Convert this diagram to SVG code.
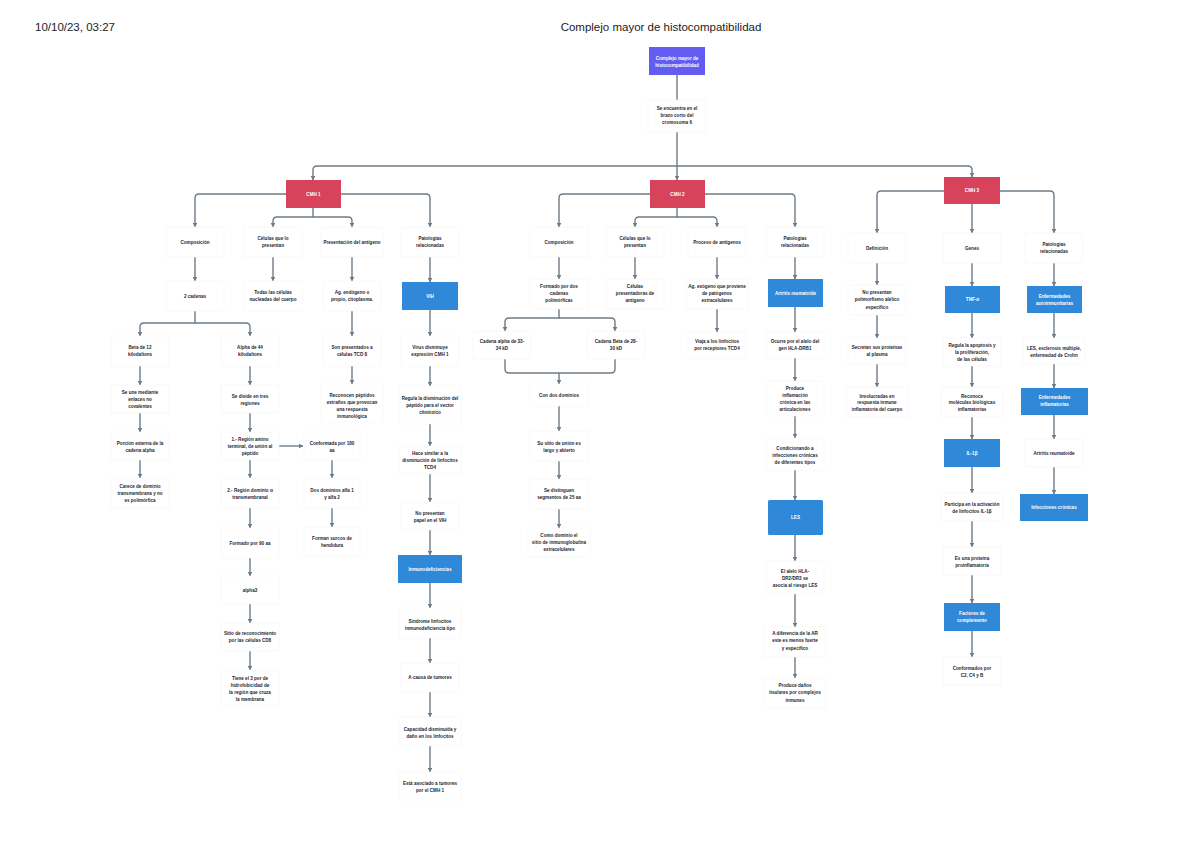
<svg xmlns="http://www.w3.org/2000/svg" width="1200" height="848" viewBox="0 0 1200 848">
<defs>
<marker id="ah" viewBox="0 0 6 6" refX="5.5" refY="3" markerWidth="4.5" markerHeight="4.5" markerUnits="userSpaceOnUse" orient="auto"><path d="M0,0 L6,3 L0,6 z" fill="#6e7b87"/></marker>
</defs>
<style>
.hd{font-family:"Liberation Sans",Arial,sans-serif;font-size:11.5px;fill:#222}
.t{font-family:"Liberation Sans",Arial,sans-serif;font-size:4.6px;font-weight:bold;fill:#1d2733;text-anchor:middle}
.tw{font-family:"Liberation Sans",Arial,sans-serif;font-size:4.6px;font-weight:bold;fill:#ffffff;text-anchor:middle}
.wb{fill:#ffffff;stroke:#f4f5f6;stroke-width:0.6}
.bb{fill:#2f88d8}
.rb{fill:#d6435b}
.pb{fill:#625cf0}
.c path{fill:none;stroke:#6e7b87;stroke-width:1.4;marker-end:url(#ah)}
.c path.n{marker-end:none}
</style>
<rect width="1200" height="848" fill="#ffffff"/>
<text class="hd" x="35" y="31">10/10/23, 03:27</text>
<text class="hd" x="661" y="31" text-anchor="middle">Complejo mayor de histocompatibilidad</text>

<g class="c" id="connectors">
<path class="n" d="M677 75 V100"/>
<path d="M677 132 V180"/>
<path d="M677 166 H317 Q313 166 313 170 V180"/>
<path d="M677 166 H968 Q972 166 972 170 V177"/>
<!-- CMH1 -->
<path d="M286 194 H199 Q195 194 195 198 V227"/>
<path d="M341 194 H426 Q430 194 430 198 V227"/>
<path d="M313 208 V217 H277 Q273 217 273 221 V227"/>
<path d="M313 217 H348 Q352 217 352 221 V227"/>
<path d="M195 257 V281"/>
<path d="M273 257 V281"/>
<path d="M352 257 V281"/>
<path d="M430 257 V282"/>
<path d="M195 311 V323 H144 Q140 323 140 327 V336"/>
<path d="M195 323 H246 Q250 323 250 327 V336"/>
<path d="M140 366 V385"/>
<path d="M140 413 V432"/>
<path d="M140 460 V478"/>
<path d="M250 366 V385"/>
<path d="M250 413 V432"/>
<path d="M278 446 H303"/>
<path d="M250 460 V478"/>
<path d="M250 508 V528"/>
<path d="M250 558 V576"/>
<path d="M250 604 V623"/>
<path d="M250 651 V670"/>
<path d="M332 460 V478"/>
<path d="M332 508 V527"/>
<path d="M352 311 V336"/>
<path d="M352 366 V384"/>
<path d="M430 310 V336"/>
<path d="M430 366 V386"/>
<path d="M430 424 V446"/>
<path d="M430 474 V502"/>
<path d="M430 530 V555"/>
<path d="M430 583 V608"/>
<path d="M430 638 V663"/>
<path d="M430 692 V717"/>
<path d="M430 746 V772"/>
<!-- CMH2 -->
<path d="M650 194 H563 Q559 194 559 198 V227"/>
<path d="M705 194 H791 Q795 194 795 198 V227"/>
<path d="M677 208 V217 H639 Q635 217 635 221 V227"/>
<path d="M677 217 H713 Q717 217 717 221 V227"/>
<path d="M559 257 V279"/>
<path d="M635 257 V279"/>
<path d="M717 257 V279"/>
<path d="M795 257 V279"/>
<path d="M559 309 V318 H509 Q505 318 505 322 V331"/>
<path d="M559 318 H611 Q615 318 615 322 V331"/>
<path class="n" d="M505 359 V369 Q505 373 509 373 H611 Q615 373 615 369 V359"/>
<path d="M559 373 V384"/>
<path d="M559 406 V431"/>
<path d="M559 461 V479"/>
<path d="M559 509 V528"/>
<path d="M717 309 V332"/>
<path d="M795 307 V332"/>
<path d="M795 358 V381"/>
<path d="M795 416 V438"/>
<path d="M795 470 V500"/>
<path d="M795 535 V561"/>
<path d="M795 594 V627"/>
<path d="M795 657 V678"/>
<!-- CMH3 -->
<path d="M944 191 H881 Q877 191 877 195 V233"/>
<path d="M1000 191 H1050 Q1054 191 1054 195 V233"/>
<path d="M972 204 V233"/>
<path d="M877 263 V285"/>
<path d="M972 263 V286"/>
<path d="M1054 263 V286"/>
<path d="M877 315 V338"/>
<path d="M972 313 V338"/>
<path d="M1054 313 V338"/>
<path d="M877 364 V387"/>
<path d="M972 366 V387"/>
<path d="M1054 364 V388"/>
<path d="M972 417 V439"/>
<path d="M972 467 V493"/>
<path d="M972 521 V547"/>
<path d="M972 575 V603"/>
<path d="M972 631 V657"/>
<path d="M1054 415 V439"/>
<path d="M1054 467 V494"/>
</g>

<g id="root"><rect class="pb" x="649" y="47" width="56" height="28"/><text class="tw"><tspan x="677" y="60">Complejo mayor de</tspan><tspan x="677" y="66.5">histocompatibilidad</tspan></text></g>
<g id="n-loc"><rect class="wb" x="648" y="100" width="58" height="32"/><text class="t"><tspan x="677" y="110">Se encuentra en el</tspan><tspan x="677" y="117">brazo corto del</tspan><tspan x="677" y="124">cromosoma 6</tspan></text></g>
<g id="cmh1"><rect class="rb" x="286" y="180" width="55" height="28"/><text class="tw" x="313.5" y="195.5">CMH 1</text></g>
<g id="cmh2"><rect class="rb" x="650" y="180" width="55" height="28"/><text class="tw" x="677.5" y="195.5">CMH 2</text></g>
<g id="cmh3"><rect class="rb" x="944" y="177" width="56" height="27"/><text class="tw" x="972" y="192">CMH 3</text></g>

<!-- CMH1 nodes -->
<g id="c1-comp"><rect class="wb" x="166" y="227" width="58" height="30"/><text class="t" x="195" y="243.5">Composición</text></g>
<g id="c1-cel"><rect class="wb" x="244" y="227" width="58" height="30"/><text class="t"><tspan x="273" y="240">Células que lo</tspan><tspan x="273" y="247">presentan</tspan></text></g>
<g id="c1-pres"><rect class="wb" x="321" y="227" width="62" height="30"/><text class="t" x="352" y="243.5">Presentación del antígeno</text></g>
<g id="c1-pat"><rect class="wb" x="401" y="227" width="58" height="30"/><text class="t"><tspan x="430" y="240">Patologías</tspan><tspan x="430" y="247">relacionadas</tspan></text></g>
<g id="c1-cad"><rect class="wb" x="166" y="281" width="58" height="30"/><text class="t" x="195" y="297.5">2 cadenas</text></g>
<g id="c1-todas"><rect class="wb" x="244" y="281" width="58" height="30"/><text class="t"><tspan x="273" y="294">Todas las células</tspan><tspan x="273" y="301">nucleadas del cuerpo</tspan></text></g>
<g id="c1-ag"><rect class="wb" x="323" y="281" width="58" height="30"/><text class="t"><tspan x="352" y="294">Ag. endógeno o</tspan><tspan x="352" y="301">propio, citoplasma.</tspan></text></g>
<g id="c1-vih"><rect class="bb" x="402" y="282" width="56" height="28"/><text class="tw" x="430" y="297.5">VIH</text></g>
<g id="c1-beta"><rect class="wb" x="111" y="336" width="58" height="30"/><text class="t"><tspan x="140" y="349">Beta de 12</tspan><tspan x="140" y="356">kilodaltons</tspan></text></g>
<g id="c1-alpha"><rect class="wb" x="221" y="336" width="58" height="30"/><text class="t"><tspan x="250" y="349">Alpha de 44</tspan><tspan x="250" y="356">kilodaltons</tspan></text></g>
<g id="c1-union"><rect class="wb" x="111" y="385" width="58" height="28"/><text class="t"><tspan x="140" y="393.5">Se une mediante</tspan><tspan x="140" y="400.5">enlaces no</tspan><tspan x="140" y="407.5">covalentes</tspan></text></g>
<g id="c1-porc"><rect class="wb" x="111" y="432" width="58" height="28"/><text class="t"><tspan x="140" y="444.5">Porción externa de la</tspan><tspan x="140" y="451.5">cadena alpha</tspan></text></g>
<g id="c1-carece"><rect class="wb" x="111" y="478" width="58" height="30"/><text class="t"><tspan x="140" y="487.5">Carece de dominio</tspan><tspan x="140" y="494.5">transmembrana y no</tspan><tspan x="140" y="501.5">es polimórfica</tspan></text></g>
<g id="c1-divide"><rect class="wb" x="221" y="385" width="58" height="28"/><text class="t"><tspan x="250" y="397.5">Se divide en tres</tspan><tspan x="250" y="404.5">regiones</tspan></text></g>
<g id="c1-reg1"><rect class="wb" x="221" y="432" width="58" height="28"/><text class="t"><tspan x="250" y="440.5">1.- Región amino</tspan><tspan x="250" y="447.5">terminal, de unión al</tspan><tspan x="250" y="454.5">péptido</tspan></text></g>
<g id="c1-conf"><rect class="wb" x="304" y="432" width="56" height="28"/><text class="t"><tspan x="332" y="444.5">Conformada por 180</tspan><tspan x="332" y="451.5">aa</tspan></text></g>
<g id="c1-dom"><rect class="wb" x="304" y="478" width="56" height="30"/><text class="t"><tspan x="332" y="491.5">Dos dominios alfa 1</tspan><tspan x="332" y="498.5">y alfa 2</tspan></text></g>
<g id="c1-surco"><rect class="wb" x="304" y="527" width="56" height="29"/><text class="t"><tspan x="332" y="539.5">Forman surcos de</tspan><tspan x="332" y="546.5">hendidura</tspan></text></g>
<g id="c1-reg2"><rect class="wb" x="221" y="478" width="58" height="30"/><text class="t"><tspan x="250" y="491.5">2.- Región dominio α</tspan><tspan x="250" y="498.5">transmembranal</tspan></text></g>
<g id="c1-90"><rect class="wb" x="221" y="528" width="58" height="30"/><text class="t" x="250" y="544.5">Formado por 90 aa</text></g>
<g id="c1-a3"><rect class="wb" x="221" y="576" width="58" height="28"/><text class="t" x="250" y="591.5">alpha3</text></g>
<g id="c1-sitio"><rect class="wb" x="221" y="623" width="58" height="28"/><text class="t"><tspan x="250" y="634.5">Sitio de reconocimiento</tspan><tspan x="250" y="641.5">por las células CD8</tspan></text></g>
<g id="c1-tiene"><rect class="wb" x="221" y="670" width="58" height="36"/><text class="t"><tspan x="250" y="679.5">Tiene el 3 por de</tspan><tspan x="250" y="686.5">hidrofobicidad de</tspan><tspan x="250" y="693.5">la región que cruza</tspan><tspan x="250" y="700.5">la membrana</tspan></text></g>
<g id="c1-son"><rect class="wb" x="323" y="336" width="58" height="30"/><text class="t"><tspan x="352" y="349">Son presentados a</tspan><tspan x="352" y="356">células TCD 8</tspan></text></g>
<g id="c1-recon"><rect class="wb" x="321" y="384" width="62" height="38"/><text class="t"><tspan x="352" y="396.5">Reconocen péptidos</tspan><tspan x="352" y="403.5">extraños que provocan</tspan><tspan x="352" y="410.5">una respuesta</tspan><tspan x="352" y="417.5">inmunológica</tspan></text></g>
<g id="c1-virus"><rect class="wb" x="401" y="336" width="58" height="30"/><text class="t"><tspan x="430" y="349">Virus disminuye</tspan><tspan x="430" y="356">expresión CMH 1</tspan></text></g>
<g id="c1-regula"><rect class="wb" x="399" y="386" width="62" height="38"/><text class="t"><tspan x="430" y="399.5">Regula la disminución del</tspan><tspan x="430" y="406.5">péptido para el vector</tspan><tspan x="430" y="413.5">citotóxico</tspan></text></g>
<g id="c1-hace"><rect class="wb" x="399" y="446" width="62" height="28"/><text class="t"><tspan x="430" y="454.5">Hace similar a la</tspan><tspan x="430" y="461.5">disminución de linfocitos</tspan><tspan x="430" y="468.5">TCD4</tspan></text></g>
<g id="c1-nopres"><rect class="wb" x="401" y="502" width="58" height="28"/><text class="t"><tspan x="430" y="514.5">No presentan</tspan><tspan x="430" y="521.5">papel en el VIH</tspan></text></g>
<g id="c1-inmuno"><rect class="bb" x="398" y="555" width="64" height="28"/><text class="tw" x="430" y="570.5">Inmunodeficiencias</text></g>
<g id="c1-sind"><rect class="wb" x="399" y="608" width="62" height="30"/><text class="t"><tspan x="430" y="622.5">Síndrome linfocitos</tspan><tspan x="430" y="629.5">inmunodeficiencia tipo</tspan></text></g>
<g id="c1-tumor"><rect class="wb" x="401" y="663" width="58" height="29"/><text class="t" x="430" y="678.5">A causa de tumores</text></g>
<g id="c1-capac"><rect class="wb" x="399" y="717" width="62" height="29"/><text class="t"><tspan x="430" y="730.5">Capacidad disminuida y</tspan><tspan x="430" y="737.5">daño en los linfocitos</tspan></text></g>
<g id="c1-asoc"><rect class="wb" x="399" y="772" width="62" height="28"/><text class="t"><tspan x="430" y="784.5">Está asociado a tumores</tspan><tspan x="430" y="791.5">por el CMH 1</tspan></text></g>

<!-- CMH2 nodes -->
<g id="c2-comp"><rect class="wb" x="530" y="227" width="58" height="30"/><text class="t" x="559" y="243.5">Composición</text></g>
<g id="c2-cel"><rect class="wb" x="606" y="227" width="58" height="30"/><text class="t"><tspan x="635" y="240">Células que lo</tspan><tspan x="635" y="247">presentan</tspan></text></g>
<g id="c2-proc"><rect class="wb" x="688" y="227" width="58" height="30"/><text class="t" x="717" y="243.5">Proceso de antígenos</text></g>
<g id="c2-pat"><rect class="wb" x="766" y="227" width="58" height="30"/><text class="t"><tspan x="795" y="240">Patologías</tspan><tspan x="795" y="247">relacionadas</tspan></text></g>
<g id="c2-form"><rect class="wb" x="530" y="279" width="58" height="30"/><text class="t"><tspan x="559" y="287.5">Formado por dos</tspan><tspan x="559" y="294.5">cadenas</tspan><tspan x="559" y="302">polimórficas</tspan></text></g>
<g id="c2-cpa"><rect class="wb" x="606" y="279" width="58" height="30"/><text class="t"><tspan x="635" y="287.5">Células</tspan><tspan x="635" y="294.5">presentadoras de</tspan><tspan x="635" y="302">antígeno</tspan></text></g>
<g id="c2-ag"><rect class="wb" x="686" y="279" width="62" height="30"/><text class="t"><tspan x="717" y="287.5">Ag. exógeno que proviene</tspan><tspan x="717" y="294.5">de patógenos</tspan><tspan x="717" y="302">extracelulares</tspan></text></g>
<g id="c2-ar"><rect class="bb" x="768" y="279" width="55" height="28"/><text class="tw" x="795.5" y="294.5">Artritis reumatoide</text></g>
<g id="c2-alpha"><rect class="wb" x="473" y="331" width="58" height="28"/><text class="t"><tspan x="502" y="342.5">Cadena alpha de 33-</tspan><tspan x="502" y="349.5">34 kD</tspan></text></g>
<g id="c2-beta"><rect class="wb" x="587" y="331" width="58" height="28"/><text class="t"><tspan x="616" y="342.5">Cadena Beta de 28-</tspan><tspan x="616" y="349.5">30 kD</tspan></text></g>
<g id="c2-dom"><rect class="wb" x="530" y="384" width="58" height="22"/><text class="t" x="559" y="396.5">Con dos dominios</text></g>
<g id="c2-sitio"><rect class="wb" x="530" y="431" width="58" height="30"/><text class="t"><tspan x="559" y="444.5">Su sitio de unión es</tspan><tspan x="559" y="451.5">largo y abierto</tspan></text></g>
<g id="c2-dist"><rect class="wb" x="530" y="479" width="58" height="30"/><text class="t"><tspan x="559" y="492">Se distinguen</tspan><tspan x="559" y="498.5">segmentos de 25 aa</tspan></text></g>
<g id="c2-como"><rect class="wb" x="528" y="528" width="62" height="29"/><text class="t"><tspan x="559" y="536.5">Como dominio el</tspan><tspan x="559" y="543.5">sitio de inmunoglobulina</tspan><tspan x="559" y="550.5">extracelulares</tspan></text></g>
<g id="c2-viaja"><rect class="wb" x="688" y="332" width="58" height="26"/><text class="t"><tspan x="717" y="342.5">Viaja a los linfocitos</tspan><tspan x="717" y="349.5">por receptores TCD4</tspan></text></g>
<g id="c2-ocurre"><rect class="wb" x="766" y="332" width="58" height="26"/><text class="t"><tspan x="795" y="342.5">Ocurre por el alelo del</tspan><tspan x="795" y="349.5">gen HLA-DRB1</tspan></text></g>
<g id="c2-produce"><rect class="wb" x="766" y="381" width="58" height="35"/><text class="t"><tspan x="795" y="389.5">Produce</tspan><tspan x="795" y="396.5">inflamación</tspan><tspan x="795" y="403.5">crónica en las</tspan><tspan x="795" y="410.5">articulaciones</tspan></text></g>
<g id="c2-cond"><rect class="wb" x="766" y="438" width="58" height="32"/><text class="t"><tspan x="795" y="449.5">Condicionando a</tspan><tspan x="795" y="456.5">infecciones crónicas</tspan><tspan x="795" y="464">de diferentes tipos</tspan></text></g>
<g id="c2-les"><rect class="bb" x="768" y="500" width="55" height="35" rx="1.5"/><text class="tw" x="795.5" y="519">LES</text></g>
<g id="c2-alelo"><rect class="wb" x="766" y="561" width="58" height="33"/><text class="t"><tspan x="795" y="572.5">El alelo HLA-</tspan><tspan x="795" y="579.5">DR2/DR3 se</tspan><tspan x="795" y="587">asocia al riesgo LES</tspan></text></g>
<g id="c2-dif"><rect class="wb" x="764" y="627" width="62" height="30"/><text class="t"><tspan x="795" y="634.5">A diferencia de la AR</tspan><tspan x="795" y="642">este es menos fuerte</tspan><tspan x="795" y="649.5">y específico</tspan></text></g>
<g id="c2-dano"><rect class="wb" x="764" y="678" width="62" height="30"/><text class="t"><tspan x="795" y="686.5">Produce daños</tspan><tspan x="795" y="694">tisulares por complejos</tspan><tspan x="795" y="701.5">inmunes</tspan></text></g>

<!-- CMH3 nodes -->
<g id="c3-def"><rect class="wb" x="848" y="233" width="58" height="30"/><text class="t" x="877" y="249.5">Definición</text></g>
<g id="c3-genes"><rect class="wb" x="943" y="233" width="58" height="30"/><text class="t" x="972" y="249.5">Genes</text></g>
<g id="c3-pat"><rect class="wb" x="1025" y="233" width="58" height="30"/><text class="t"><tspan x="1054" y="246">Patologías</tspan><tspan x="1054" y="253">relacionadas</tspan></text></g>
<g id="c3-nopres"><rect class="wb" x="848" y="285" width="58" height="30"/><text class="t"><tspan x="877" y="293.5">No presentan</tspan><tspan x="877" y="301">polimorfismo alélico</tspan><tspan x="877" y="308.5">específico</tspan></text></g>
<g id="c3-tnf"><rect class="bb" x="945" y="286" width="55" height="27"/><text class="tw" x="972.5" y="301">TNF-α</text></g>
<g id="c3-enf"><rect class="bb" x="1027" y="286" width="55" height="27"/><text class="tw"><tspan x="1054.5" y="297.5">Enfermedades</tspan><tspan x="1054.5" y="304.5">autoinmunitarias</tspan></text></g>
<g id="c3-secr"><rect class="wb" x="848" y="338" width="58" height="26"/><text class="t"><tspan x="877" y="348.5">Secretan sus proteínas</tspan><tspan x="877" y="355.5">al plasma</tspan></text></g>
<g id="c3-es"><rect class="wb" x="943" y="338" width="58" height="28"/><text class="t"><tspan x="972" y="346.5">Regula la apoptosis y</tspan><tspan x="972" y="353.5">la proliferación,</tspan><tspan x="972" y="360.5">de las células</tspan></text></g>
<g id="c3-enfcr"><rect class="wb" x="1023" y="338" width="62" height="26"/><text class="t"><tspan x="1054" y="349.5">LES, esclerosis múltiple,</tspan><tspan x="1054" y="356.5">enfermedad de Crohn</tspan></text></g>
<g id="c3-invol"><rect class="wb" x="846" y="387" width="62" height="30"/><text class="t"><tspan x="877" y="397.5">Involucradas en</tspan><tspan x="877" y="404">respuesta inmune</tspan><tspan x="877" y="411">inflamatoria del cuerpo</tspan></text></g>
<g id="c3-recon"><rect class="wb" x="941" y="387" width="62" height="30"/><text class="t"><tspan x="972" y="397.5">Reconoce</tspan><tspan x="972" y="404">moléculas biológicas</tspan><tspan x="972" y="411">inflamatorias</tspan></text></g>
<g id="c3-enfinf"><rect class="bb" x="1021" y="388" width="67" height="27"/><text class="tw"><tspan x="1054.5" y="399">Enfermedades</tspan><tspan x="1054.5" y="406">inflamatorias</tspan></text></g>
<g id="c3-il"><rect class="bb" x="944" y="439" width="56" height="28"/><text class="tw" x="972" y="454.5">IL-1β</text></g>
<g id="c3-part"><rect class="wb" x="941" y="493" width="62" height="28"/><text class="t"><tspan x="972" y="505.5">Participa en la activación</tspan><tspan x="972" y="512.5">de linfocitos IL-1β</tspan></text></g>
<g id="c3-prot"><rect class="wb" x="943" y="547" width="58" height="28"/><text class="t"><tspan x="972" y="559.5">Es una proteína</tspan><tspan x="972" y="566.5">proinflamatoria</tspan></text></g>
<g id="c3-fact"><rect class="bb" x="944" y="603" width="56" height="28"/><text class="tw"><tspan x="972" y="615">Factores de</tspan><tspan x="972" y="622">complemento</tspan></text></g>
<g id="c3-conf"><rect class="wb" x="943" y="657" width="58" height="28"/><text class="t"><tspan x="972" y="669.5">Conformados por</tspan><tspan x="972" y="676.5">C2, C4 y B</tspan></text></g>
<g id="c3-artr"><rect class="wb" x="1025" y="439" width="58" height="28"/><text class="t" x="1054" y="454.5">Artritis reumatoide</text></g>
<g id="c3-infec"><rect class="bb" x="1020" y="494" width="68" height="27"/><text class="tw" x="1054" y="509">Infecciones crónicas</text></g>
</svg>
